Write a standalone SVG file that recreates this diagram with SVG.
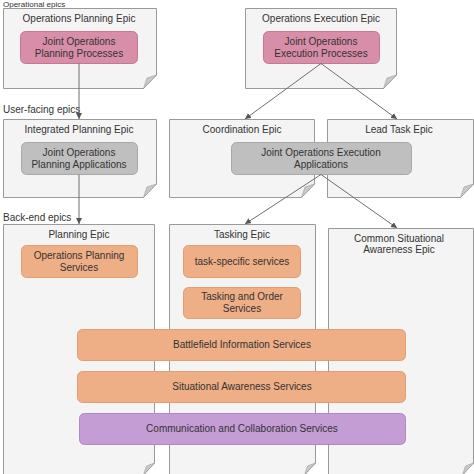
<svg xmlns="http://www.w3.org/2000/svg" width="474" height="474" viewBox="0 0 474 474">
<defs>
<style>
text{font-family:"Liberation Sans",Arial,sans-serif;font-size:10px;fill:#333;text-anchor:middle}
.lbl{text-anchor:start}
.page{fill:#f4f4f4;stroke:#9a9a9a;stroke-width:1}
.fold{fill:#c9c9c9;stroke:#9a9a9a;stroke-width:0.6}
.pink{fill:#d88da8;stroke:#c47993;stroke-width:1}
.gray{fill:#bfbfbf;stroke:#a8a8a8;stroke-width:1}
.orange{fill:#eeae86;stroke:#e39d72;stroke-width:1}
.purple{fill:#c49dd4;stroke:#b089c2;stroke-width:1}
.conn{stroke:#6f6f6f;stroke-width:1;fill:none;marker-end:url(#ah)}
</style>
<marker id="ah" viewBox="0 0 10 10" refX="10" refY="5" markerWidth="6" markerHeight="6" orient="auto" markerUnits="userSpaceOnUse">
<path d="M0,0 L10,5 L0,10 Z" fill="#555"/>
</marker>
</defs>
<rect width="474" height="474" fill="#fff"/>

<text class="lbl" x="3" y="6.5" style="font-size:8px">Operational epics</text>
<text class="lbl" x="3" y="113">User-facing epics</text>
<text class="lbl" x="3" y="221">Back-end epics</text>

<g id="ops-planning-epic">
<path class="page" d="M3.5,8.5 H156.5 V75 L143.5,88.5 H3.5 Z"/>
<path class="fold" d="M156.5,75 L143.5,88.5 L147,78 Z"/>
<text x="79" y="22">Operations Planning Epic</text>
</g>
<g id="jo-planning-processes">
<rect class="pink" x="20.5" y="31.5" width="117" height="32" rx="5"/>
<text x="79" y="45">Joint Operations</text>
<text x="79" y="57">Planning Processes</text>
</g>

<g id="ops-execution-epic">
<path class="page" d="M245.5,8.5 H396.5 V75 L383.5,88.5 H245.5 Z"/>
<path class="fold" d="M396.5,75 L383.5,88.5 L387,78 Z"/>
<text x="321" y="22">Operations Execution Epic</text>
</g>
<g id="jo-execution-processes">
<rect class="pink" x="263.5" y="31.5" width="116" height="32" rx="5"/>
<text x="321" y="45">Joint Operations</text>
<text x="321" y="57">Execution Processes</text>
</g>

<g id="integrated-planning-epic">
<path class="page" d="M3.5,119.5 H156.5 V184 L143.5,197.5 H3.5 Z"/>
<path class="fold" d="M156.5,184 L143.5,197.5 L147,187 Z"/>
<text x="79" y="133">Integrated Planning Epic</text>
</g>
<g id="jo-planning-apps">
<rect class="gray" x="21.5" y="142.5" width="116" height="32" rx="5"/>
<text x="79" y="156">Joint Operations</text>
<text x="79" y="168">Planning Applications</text>
</g>

<g id="coordination-epic">
<path class="page" d="M169.5,119.5 H314.5 V184 L301.5,197.5 H169.5 Z"/>
<path class="fold" d="M314.5,184 L301.5,197.5 L305,187 Z"/>
<text x="242" y="133">Coordination Epic</text>
</g>
<g id="lead-task-epic">
<path class="page" d="M327.5,119.5 H473.5 V184 L460.5,197.5 H327.5 Z"/>
<path class="fold" d="M473.5,184 L460.5,197.5 L464,187 Z"/>
<text x="399" y="133">Lead Task Epic</text>
</g>
<g id="jo-execution-apps">
<rect class="gray" x="231.5" y="142.5" width="180" height="32" rx="5"/>
<text x="321" y="156">Joint Operations Execution</text>
<text x="321" y="168">Applications</text>
</g>

<g id="planning-epic">
<path class="page" d="M3.5,224.5 H154.5 V463 L143.5,475 H3.5 Z"/>
<path class="fold" d="M154.5,463 L143.5,475 L146.5,466 Z"/>
<text x="79" y="238">Planning Epic</text>
</g>
<g id="tasking-epic">
<path class="page" d="M169.5,224.5 H315.5 V463 L304.5,475 H169.5 Z"/>
<path class="fold" d="M315.5,463 L304.5,475 L307.5,466 Z"/>
<text x="242" y="238">Tasking Epic</text>
</g>
<g id="csa-epic">
<path class="page" d="M328.5,228.5 H473.5 V463 L462.5,475 H328.5 Z"/>
<path class="fold" d="M473.5,463 L462.5,475 L465.5,466 Z"/>
<text x="399" y="242">Common Situational</text>
<text x="399" y="253">Awareness Epic</text>
</g>

<g id="ops-planning-services">
<rect class="orange" x="21.5" y="245.5" width="116" height="32" rx="5"/>
<text x="79" y="259">Operations Planning</text>
<text x="79" y="271">Services</text>
</g>
<g id="task-specific-services">
<rect class="orange" x="183.5" y="245.5" width="117" height="32" rx="5"/>
<text x="242" y="265">task-specific services</text>
</g>
<g id="tasking-order-services">
<rect class="orange" x="183.5" y="287.5" width="117" height="31" rx="5"/>
<text x="242" y="300">Tasking and Order</text>
<text x="242" y="312">Services</text>
</g>
<g id="battlefield-info-services">
<rect class="orange" x="77.5" y="329.5" width="328" height="31" rx="5"/>
<text x="242" y="348">Battlefield Information Services</text>
</g>
<g id="sa-services">
<rect class="orange" x="77.5" y="371.5" width="328" height="31" rx="5"/>
<text x="242" y="390">Situational Awareness Services</text>
</g>
<g id="comm-collab-services">
<rect class="purple" x="79.5" y="413.5" width="326" height="31" rx="5"/>
<text x="242" y="432">Communication and Collaboration Services</text>
</g>

<g id="connectors">
<path class="conn" d="M79,63.5 V119"/>
<path class="conn" d="M321,63.5 L245,119"/>
<path class="conn" d="M321,63.5 L397,119"/>
<path class="conn" d="M79,174.5 V224"/>
<path class="conn" d="M321,174.5 L245,224"/>
<path class="conn" d="M321,174.5 L397,228"/>
</g>
</svg>
